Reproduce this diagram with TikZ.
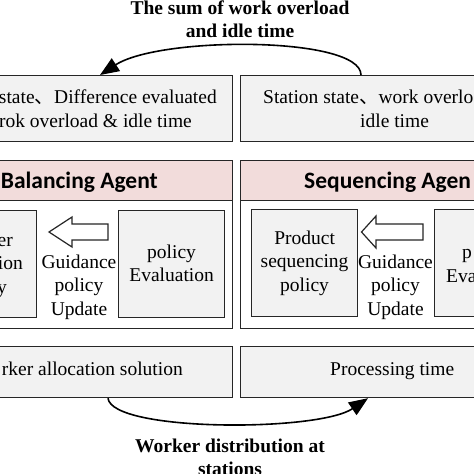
\documentclass[tikz,border=0pt]{standalone}
\usepackage{fontspec}
\setmainfont{Liberation Serif}
\newfontfamily\hdfont{Carlito}
\newfontfamily\cjkfont{Noto Sans CJK SC}
\usetikzlibrary{arrows.meta}
\definecolor{boxgray}{HTML}{F2F2F2}
\definecolor{hdpink}{HTML}{F2DCDB}
\definecolor{edge}{HTML}{262626}
\newcommand{\ideocomma}{{\cjkfont 、}}
\begin{document}
\begin{tikzpicture}[x=1pt,y=-1pt,
  box/.style={draw=edge,line width=1.2pt,fill=boxgray,inner sep=0pt,anchor=north west},
  agentbox/.style={draw=edge,line width=1.3pt,fill=white,inner sep=0pt,anchor=north west},
  headbox/.style={draw=edge,line width=1.3pt,fill=hdpink,inner sep=0pt,anchor=north west},
  txt/.style={font=\fontsize{19.5}{23.5}\selectfont,inner sep=0pt,align=center},
  headtxt/.style={font=\hdfont\bfseries\fontsize{23.5}{26}\selectfont,inner sep=0pt},
  lbl/.style={font=\bfseries\fontsize{19.5}{23}\selectfont,inner sep=0pt,align=center},
  hollow/.style={draw=edge,line width=1.2pt,fill=white,line join=miter},
  flow/.style={draw=black,line width=1.6pt,-{Triangle[length=19pt,width=15pt]}}
]
\useasboundingbox (0,0) rectangle (474,474);

% top state boxes
\node[box,minimum width=242pt,minimum height=66pt] (tl) at (-10,75) {};
\node[box,minimum width=250pt,minimum height=65.5pt] (tr) at (239.5,75) {};
\node[txt,anchor=base east] (tl1) at (217,103) {state\ideocomma Difference evaluated};
\node[txt,anchor=base east] (tl2) at (192,127) {rok overload \& idle time};
\node[txt,anchor=base west] (tr1) at (263,103) {Station state\ideocomma work overlo};
\node[txt,anchor=base west] (tr2) at (360,127) {idle time};

% agent boxes
\node[agentbox,minimum width=242pt,minimum height=168pt] (la) at (-10,160) {};
\node[headbox,minimum width=242pt,minimum height=40pt] (lah) at (-10,160) {};
\node[agentbox,minimum width=250pt,minimum height=168pt] (ra) at (239.5,160) {};
\node[headbox,minimum width=250pt,minimum height=40pt] (rah) at (239.5,160) {};
\node[headtxt,anchor=base east] (lat) at (158,188) {Balancing Agent};
\node[headtxt,anchor=base west] (rat) at (304,188) {Sequencing Agen};

% inner boxes, left agent
\node[box,minimum width=46pt,minimum height=107pt] (lin1) at (-10,210) {};
\node[txt,anchor=base east] (lin1a) at (13,246) {er};
\node[txt,anchor=base east] (lin1b) at (23,269.5) {ion};
\node[txt,anchor=base east] (lin1c) at (7,293) {y};
\node[box,minimum width=106pt,minimum height=107pt] (lin2) at (118,210) {};
\node[txt] (lin2t) at (lin2.center) [yshift=1pt] {policy\\Evaluation};
\draw[hollow] (49,232) -- (72,217) -- (72,224) -- (108,224) -- (108,240) -- (72,240) -- (72,247) -- cycle;
\node[txt] (lgu) at (79,287) {Guidance\\policy\\Update};

% inner boxes, right agent
\node[box,minimum width=106pt,minimum height=107pt] (rin1) at (251,209) {};
\node[txt] (rin1t) at (rin1.center) {Product\\sequencing\\policy};
\node[box,minimum width=106pt,minimum height=107pt] (rin2) at (434,209) {};
\node[txt,anchor=base west] (rin2a) at (462,258) {p};
\node[txt,anchor=base west] (rin2b) at (446,282) {Eva};
\draw[hollow] (361.5,232) -- (376,216) -- (376,224) -- (423,224) -- (423,240) -- (376,240) -- (376,248) -- cycle;
\node[txt] (rgu) at (395.5,287) {Guidance\\policy\\Update};

% bottom boxes
\node[box,minimum width=242pt,minimum height=51pt] (bl) at (-10,346) {};
\node[box,minimum width=250pt,minimum height=51pt] (br) at (239.5,346) {};
\node[txt,anchor=base east] (blt) at (183,375) {rker allocation solution};
\node[txt,anchor=base west] (brt) at (330,375) {Processing time};

% connectors
\path (tr.north west) ++(121.5,0) coordinate (trA);
\path (tl.north west) ++(110,0) coordinate (tlA);
\path (bl.south west) ++(118,0) coordinate (blA);
\path (br.south west) ++(128.5,0) coordinate (brA);
\draw[flow] (trA) .. controls (361,36) and (160,36) .. (tlA);
\draw[flow] (blA) .. controls (112,432) and (318,432) .. (brA);

% labels
\node[lbl] (toplbl) at (240,19.5) {The sum of work overload\\and idle time};
\node[lbl] (botlbl) at (230,457) {Worker distribution at\\stations};
\end{tikzpicture}
\end{document}
